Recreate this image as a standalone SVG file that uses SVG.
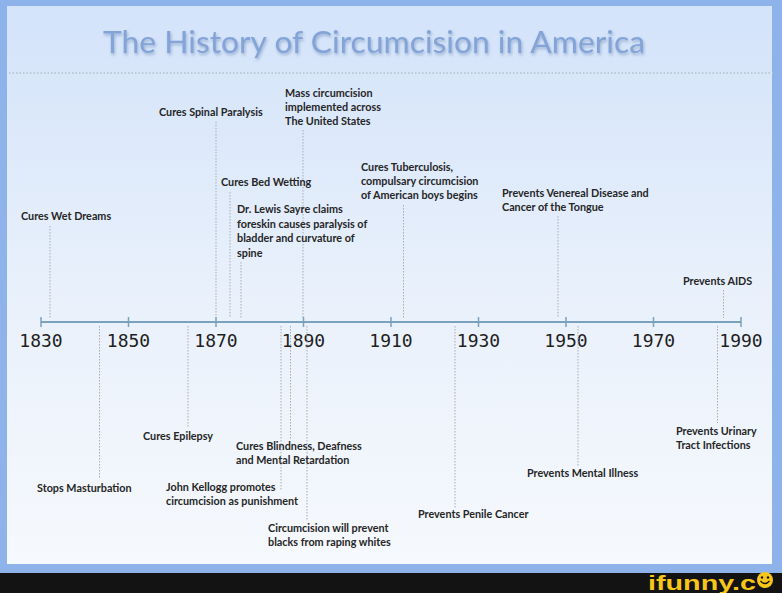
<svg xmlns="http://www.w3.org/2000/svg" width="782" height="593" viewBox="0 0 782 593">
<defs>
<linearGradient id="bg" x1="0" y1="0" x2="0" y2="1">
<stop offset="0" stop-color="#d3e3fa"/>
<stop offset="0.5" stop-color="#e8f0fb"/>
<stop offset="1" stop-color="#f6f9fd"/>
</linearGradient>
<filter id="sh" x="-5%" y="-30%" width="110%" height="160%">
<feGaussianBlur in="SourceAlpha" stdDeviation="1.5"/>
<feOffset dx="1" dy="2" result="b"/>
<feFlood flood-color="#4f6f9f" flood-opacity="0.45"/>
<feComposite in2="b" operator="in"/>
<feMerge><feMergeNode/><feMergeNode in="SourceGraphic"/></feMerge>
</filter>
<style>
.lbl{font-family:Lato,"Open Sans",sans-serif;font-weight:bold;font-size:10.8px;fill:#262626}
.yr{font-family:"DejaVu Sans Mono",monospace;font-size:18px;fill:#1e1e1e;text-anchor:middle}
.dot{stroke:#a9adb3;stroke-width:1;stroke-dasharray:1.5 1.5;fill:none}
.tick{stroke:#7aa1bd;stroke-width:1.5}
</style>
</defs>
<rect x="0" y="0" width="782" height="593" fill="#8db3ea"/>
<rect x="7" y="6" width="765" height="558" fill="url(#bg)"/>
<rect x="0" y="573" width="782" height="20" fill="#131313"/>
<text x="103" y="53" font-family="Lato,'Open Sans',sans-serif" font-size="31" fill="#84a4d8" textLength="542" lengthAdjust="spacingAndGlyphs" filter="url(#sh)">The History of Circumcision in America</text>
<line x1="9" y1="73" x2="773" y2="73" stroke="#b4c0cc" stroke-width="1.5" stroke-dasharray="1.5 2"/>
<g id="axis">
<line x1="41" y1="322" x2="741" y2="322" stroke="#7aa1bd" stroke-width="2"/>
<line class="tick" x1="41" y1="317" x2="41" y2="327"/>
<line class="tick" x1="128.5" y1="317" x2="128.5" y2="327"/>
<line class="tick" x1="216" y1="317" x2="216" y2="327"/>
<line class="tick" x1="303.5" y1="317" x2="303.5" y2="327"/>
<line class="tick" x1="391" y1="317" x2="391" y2="327"/>
<line class="tick" x1="478.5" y1="317" x2="478.5" y2="327"/>
<line class="tick" x1="566" y1="317" x2="566" y2="327"/>
<line class="tick" x1="653.5" y1="317" x2="653.5" y2="327"/>
<line class="tick" x1="741" y1="317" x2="741" y2="327"/>
<text class="yr" x="41" y="347">1830</text>
<text class="yr" x="128.5" y="347">1850</text>
<text class="yr" x="216" y="347">1870</text>
<text class="yr" x="303.5" y="347">1890</text>
<text class="yr" x="391" y="347">1910</text>
<text class="yr" x="478.5" y="347">1930</text>
<text class="yr" x="566" y="347">1950</text>
<text class="yr" x="653.5" y="347">1970</text>
<text class="yr" x="741" y="347">1990</text>
</g>
<g id="connectors">
<line class="dot" x1="50" y1="226" x2="50" y2="318"/>
<line class="dot" x1="216" y1="122" x2="216" y2="318"/>
<line class="dot" x1="303" y1="130" x2="303" y2="318"/>
<line class="dot" x1="230" y1="192" x2="230" y2="318"/>
<line class="dot" x1="241" y1="262" x2="241" y2="318"/>
<line class="dot" x1="403.5" y1="205" x2="403.5" y2="318"/>
<line class="dot" x1="558" y1="216" x2="558" y2="318"/>
<line class="dot" x1="723.5" y1="290" x2="723.5" y2="318"/>
<line class="dot" x1="99.5" y1="326" x2="99.5" y2="478"/>
<line class="dot" x1="188" y1="326" x2="188" y2="428"/>
<line class="dot" x1="281" y1="326" x2="281" y2="490"/>
<line class="dot" x1="290.5" y1="326" x2="290.5" y2="440"/>
<line class="dot" x1="307" y1="326" x2="307" y2="521"/>
<line class="dot" x1="455" y1="326" x2="455" y2="508"/>
<line class="dot" x1="578" y1="326" x2="578" y2="466"/>
<line class="dot" x1="717.5" y1="326" x2="717.5" y2="423"/>
</g>
<g id="wet-dreams"><text class="lbl" x="21" y="220">Cures Wet Dreams</text></g>
<g id="spinal-paralysis"><text class="lbl" x="159" y="116">Cures Spinal Paralysis</text></g>
<g id="mass-circumcision"><text class="lbl" x="285" y="97">Mass circumcision<tspan x="285" dy="14">implemented across</tspan><tspan x="285" dy="14">The United States</tspan></text></g>
<g id="bed-wetting"><text class="lbl" x="221" y="186">Cures Bed Wetting</text></g>
<g id="sayre"><text class="lbl" x="237" y="213">Dr. Lewis Sayre claims<tspan x="237" dy="14.5">foreskin causes paralysis of</tspan><tspan x="237" dy="14.5">bladder and curvature of</tspan><tspan x="237" dy="14.5">spine</tspan></text></g>
<g id="tuberculosis"><text class="lbl" x="361" y="171">Cures Tuberculosis,<tspan x="361" dy="13.8">compulsary circumcision</tspan><tspan x="361" dy="13.8">of American boys begins</tspan></text></g>
<g id="venereal"><text class="lbl" x="502" y="197">Prevents Venereal Disease and<tspan x="502" dy="14">Cancer of the Tongue</tspan></text></g>
<g id="aids"><text class="lbl" x="683" y="285">Prevents AIDS</text></g>
<g id="masturbation"><text class="lbl" x="37" y="492">Stops Masturbation</text></g>
<g id="epilepsy"><text class="lbl" x="143" y="440">Cures Epilepsy</text></g>
<g id="kellogg"><text class="lbl" x="166" y="491">John Kellogg promotes<tspan x="166" dy="14">circumcision as punishment</tspan></text></g>
<g id="blindness"><text class="lbl" x="236" y="450">Cures Blindness, Deafness<tspan x="236" dy="13.5">and Mental Retardation</tspan></text></g>
<g id="raping"><text class="lbl" x="268" y="532">Circumcision will prevent<tspan x="268" dy="13.5">blacks from raping whites</tspan></text></g>
<g id="penile"><text class="lbl" x="418" y="518">Prevents Penile Cancer</text></g>
<g id="mental-illness"><text class="lbl" x="527" y="477">Prevents Mental Illness</text></g>
<g id="urinary"><text class="lbl" x="676" y="435">Prevents Urinary<tspan x="676" dy="14">Tract Infections</tspan></text></g>
<g id="logo">
<text x="648" y="590" font-family="'Liberation Sans',sans-serif" font-weight="bold" font-size="21" fill="#f6c61b" textLength="108" lengthAdjust="spacingAndGlyphs">ifunny.c</text>
<circle cx="765" cy="580" r="8" fill="#f6c61b"/>
<circle cx="762" cy="577.5" r="1.2" fill="#131313"/>
<circle cx="768" cy="577.5" r="1.2" fill="#131313"/>
<path d="M760.5 581 Q765 586 769.5 581" stroke="#131313" stroke-width="1.3" fill="none"/>
</g>
</svg>
